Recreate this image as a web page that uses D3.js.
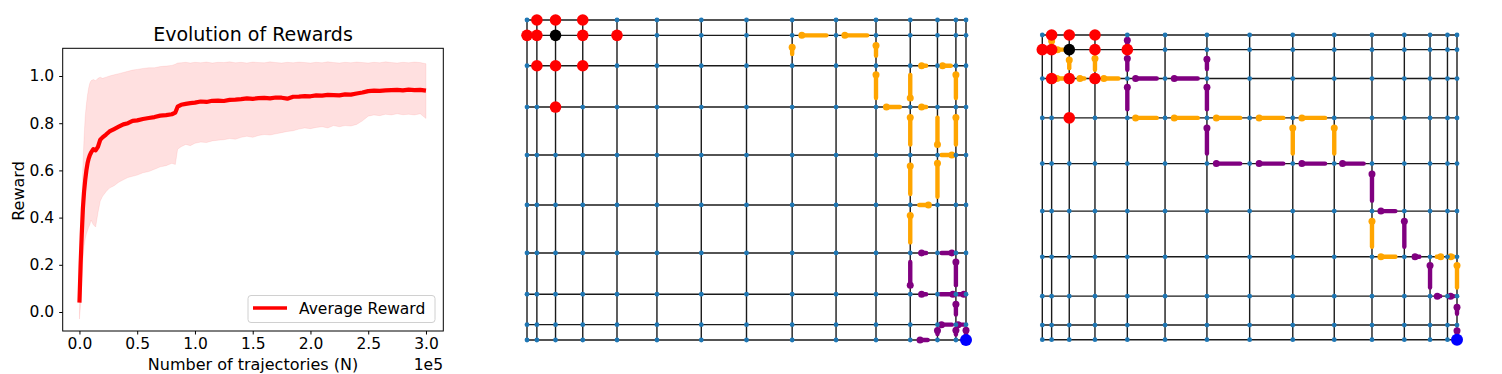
<!DOCTYPE html>
<html>
<head>
<meta charset="utf-8">
<script src="https://cdn.jsdelivr.net/npm/d3@7"></script>
<style>
body { margin: 0; background: #fff; }
text { font-family: "DejaVu Sans", sans-serif; }
</style>
</head>
<body>
<script>
// reward curve: number of trajectories, mean and band
var trajN = [0, 1000, 2000, 3000, 4000, 5000, 6000, 7000, 8000, 9000, 10000, 12000, 14000, 16000, 18000,
	20000, 23000, 26000, 30000, 34000, 38000, 42000, 46000, 50000, 55000, 60000, 65000, 70000, 75000,
	80000, 83000, 85000, 88000, 92000, 96000, 100000, 105000, 110000, 115000, 120000, 125000, 130000,
	135000, 140000, 145000, 150000, 155000, 160000, 165000, 170000, 175000, 180000, 185000, 190000,
	195000, 200000, 205000, 210000, 215000, 220000, 225000, 230000, 235000, 240000, 245000, 250000,
	255000, 260000, 265000, 270000, 275000, 280000, 285000, 290000, 295000, 300000];
var rewardMean = [0.04, 0.20, 0.33, 0.44, 0.51, 0.56, 0.60, 0.63, 0.65, 0.665, 0.675, 0.69, 0.685, 0.70, 0.73,
	0.74, 0.752, 0.765, 0.775, 0.785, 0.795, 0.80, 0.81, 0.812, 0.818, 0.822, 0.826, 0.832, 0.834,
	0.838, 0.845, 0.87, 0.878, 0.882, 0.885, 0.887, 0.892, 0.89, 0.895, 0.896, 0.894, 0.899,
	0.90, 0.902, 0.905, 0.903, 0.906, 0.907, 0.905, 0.909, 0.908, 0.904, 0.912, 0.913,
	0.915, 0.914, 0.918, 0.917, 0.92, 0.919, 0.918, 0.922, 0.921, 0.926, 0.93, 0.936,
	0.938, 0.937, 0.939, 0.94, 0.941, 0.939, 0.942, 0.94, 0.941, 0.938];
var rewardUpper = [0.10, 0.30, 0.47, 0.62, 0.74, 0.83, 0.88, 0.92, 0.95, 0.97, 0.98, 0.985, 0.98, 0.99, 0.995,
	0.99, 0.995, 1.0, 1.005, 1.01, 1.015, 1.02, 1.025, 1.028, 1.032, 1.035, 1.035, 1.04, 1.042,
	1.045, 1.05, 1.055, 1.056, 1.058, 1.055, 1.058, 1.056, 1.059, 1.055, 1.058, 1.057, 1.06,
	1.056, 1.058, 1.055, 1.059, 1.057, 1.056, 1.06, 1.057, 1.055, 1.058, 1.056, 1.059,
	1.057, 1.055, 1.058, 1.056, 1.06, 1.057, 1.055, 1.058, 1.056, 1.059, 1.057, 1.055,
	1.058, 1.056, 1.06, 1.057, 1.055, 1.058, 1.056, 1.059, 1.057, 1.052];
var rewardLower = [-0.03, 0.03, 0.12, 0.22, 0.28, 0.31, 0.33, 0.345, 0.36, 0.37, 0.39, 0.37, 0.36, 0.42, 0.47,
	0.49, 0.51, 0.525, 0.535, 0.55, 0.56, 0.57, 0.575, 0.58, 0.59, 0.595, 0.605, 0.615, 0.62,
	0.63, 0.625, 0.69, 0.70, 0.71, 0.705, 0.715, 0.72, 0.718, 0.725, 0.728, 0.73, 0.735,
	0.732, 0.74, 0.745, 0.74, 0.748, 0.752, 0.75, 0.755, 0.76, 0.765, 0.768, 0.775,
	0.78, 0.777, 0.782, 0.785, 0.78, 0.79, 0.785, 0.79, 0.788, 0.795, 0.81, 0.83,
	0.835, 0.832, 0.838, 0.835, 0.84, 0.836, 0.838, 0.835, 0.84, 0.82];
var xTicks = [0, 50000, 100000, 150000, 200000, 250000, 300000];
var yTicks = [0, 0.2, 0.4, 0.6, 0.8, 1.0];

// grid graph: node positions (normalised) and special nodes [col, row]
var gridX = [0, 0.0225, 0.065, 0.127, 0.205, 0.296, 0.397, 0.5, 0.604, 0.704, 0.795, 0.873, 0.935, 0.977, 1];
var gridY = [0, 0.048, 0.143, 0.272, 0.422, 0.578, 0.728, 0.857, 0.952, 1];
var redNodes = [[1, 0], [2, 0], [3, 0], [0, 1], [1, 1], [3, 1], [4, 1], [1, 2], [2, 2], [3, 2], [2, 3]];
var startNode = [2, 1];
var goalNode = [14, 9];

// arrows: [fromCol, fromRow, toCol, toRow, weight]
var midOrange = [[9, 1, 8, 1, 1], [10, 1, 9, 1, 1], [8, 2, 8, 1, 0.4], [10, 2, 10, 1, 0.6], [10, 3, 10, 2, 1],
	[12, 2, 11, 2, 0.3], [13, 2, 12, 2, 0.8], [11, 2, 11, 3, 1], [13, 3, 13, 2, 1], [11, 3, 10, 3, 0.7],
	[12, 3, 11, 3, 0.3], [11, 4, 11, 3, 1], [12, 3, 12, 4, 1], [13, 4, 13, 3, 1], [12, 4, 13, 4, 1],
	[11, 5, 11, 4, 1], [12, 5, 12, 4, 1.2], [11, 5, 12, 5, 0.6], [11, 6, 11, 5, 1]];
var midPurple = [[12, 6, 11, 6, 0.3], [12, 6, 13, 6, 1], [11, 6, 11, 7, 1], [13, 7, 13, 6, 1], [12, 7, 11, 7, 0.3],
	[12, 7, 13, 7, 1.2], [13, 7, 14, 7, 1], [13, 8, 13, 7, 0.6], [13, 8, 12, 8, 1], [14, 8, 13, 8, 1],
	[14, 9, 14, 8, 0.5], [12, 9, 11, 9, 0.5], [12, 9, 12, 8, 0.4], [13, 9, 13, 8, 0.5]];
var rightOrange = [[1, 1, 1, 0, 0.3], [2, 1, 1, 1, 0.6], [2, 2, 2, 1, 0.5], [3, 2, 3, 1, 0.7], [2, 2, 1, 2, 0.7],
	[3, 2, 2, 2, 0.3], [4, 2, 3, 2, 0.8], [5, 3, 4, 3, 1], [6, 3, 5, 3, 1], [7, 3, 6, 3, 1], [8, 3, 7, 3, 1],
	[9, 3, 8, 3, 1], [8, 4, 8, 3, 1], [9, 4, 9, 3, 1], [10, 6, 10, 5, 1], [11, 6, 10, 6, 0.8],
	[12, 6, 13, 6, 0.4], [14, 6, 13, 6, 0.5], [14, 7, 14, 6, 1]];
var rightPurple = [[4, 1, 4, 0, 0.5], [4, 2, 4, 1, 0.7], [4, 3, 4, 2, 1], [5, 2, 4, 2, 1], [6, 2, 5, 2, 1],
	[6, 2, 6, 1, 0.6], [6, 3, 6, 2, 1], [6, 4, 6, 3, 1], [7, 4, 6, 4, 1], [8, 4, 7, 4, 1], [9, 4, 8, 4, 1],
	[10, 4, 9, 4, 1], [10, 5, 10, 4, 1], [11, 5, 10, 5, 0.8], [11, 6, 11, 5, 1], [12, 6, 11, 6, 0.3],
	[12, 7, 12, 6, 1], [13, 7, 12, 7, 0.3], [14, 7, 13, 7, 0.6], [14, 8, 14, 7, 0.4], [14, 9, 14, 8, 0.4]];

var width = 1502;
var height = 374;

var svg = d3.select("body").append("svg")
	.attr("width", width)
	.attr("height", height);

svg.append("rect").attr("width", width).attr("height", height).attr("fill", "#fff");

// ---------- reward plot ----------
var x = d3.scaleLinear().domain([-14500, 315000]).range([62.7, 443.3]);
var y = d3.scaleLinear().domain([-0.0805, 1.1174]).range([331, 48.3]);

var band = d3.area()
	.x(function(d, i) { return x(trajN[i]); })
	.y0(function(d, i) { return y(rewardLower[i]); })
	.y1(function(d, i) { return y(rewardUpper[i]); });

svg.append("path").datum(trajN)
	.attr("d", band)
	.attr("fill", "#ff0000")
	.attr("fill-opacity", 0.12)
	.attr("stroke", "#ff0000")
	.attr("stroke-opacity", 0.08);

var meanLine = d3.line()
	.x(function(d, i) { return x(trajN[i]); })
	.y(function(d, i) { return y(rewardMean[i]); });

svg.append("path").datum(trajN)
	.attr("d", meanLine)
	.attr("fill", "none")
	.attr("stroke", "#ff0000")
	.attr("stroke-width", 4.2)
	.attr("stroke-linejoin", "round");

var xAxis = svg.append("g")
	.attr("transform", "translate(0,331)")
	.call(d3.axisBottom(x).tickValues(xTicks).tickSize(3.5).tickPadding(3.5).tickSizeOuter(0)
		.tickFormat(function(d) { return (d / 1e5).toFixed(1); }));
var yAxis = svg.append("g")
	.attr("transform", "translate(62.7,0)")
	.call(d3.axisLeft(y).tickValues(yTicks).tickSize(3.5).tickPadding(5).tickSizeOuter(0)
		.tickFormat(d3.format(".1f")));
[xAxis, yAxis].forEach(function(a) {
	a.select(".domain").remove();
	a.selectAll("text").attr("font-family", "DejaVu Sans").attr("font-size", "15.5px").attr("fill", "#000");
	a.selectAll("line").attr("stroke", "#000");
});

svg.append("rect")
	.attr("x", 62.7).attr("y", 48.3)
	.attr("width", 443.3 - 62.7).attr("height", 331 - 48.3)
	.attr("fill", "none").attr("stroke", "#000").attr("stroke-width", 1);

svg.append("text").attr("x", 253).attr("y", 41).attr("text-anchor", "middle")
	.attr("font-size", "19px").text("Evolution of Rewards");
svg.append("text").attr("x", 253).attr("y", 370).attr("text-anchor", "middle")
	.attr("font-size", "16px").text("Number of trajectories (N)");
svg.append("text").attr("x", 443).attr("y", 369.5).attr("text-anchor", "end")
	.attr("font-size", "15.5px").text("1e5");
svg.append("text").attr("transform", "translate(24,191) rotate(-90)").attr("text-anchor", "middle")
	.attr("font-size", "16px").text("Reward");

var legend = svg.append("g");
legend.append("rect").attr("x", 248).attr("y", 295.5).attr("width", 187).attr("height", 27).attr("rx", 3)
	.attr("fill", "#fff").attr("fill-opacity", 0.8).attr("stroke", "#d0d0d0");
legend.append("line").attr("x1", 253).attr("x2", 287).attr("y1", 308).attr("y2", 308)
	.attr("stroke", "#ff0000").attr("stroke-width", 3.6);
legend.append("text").attr("x", 299).attr("y", 313.5).attr("font-size", "15.5px").text("Average Reward");

// ---------- grid panels ----------
function drawGrid(x0, x1, y0, y1, orange, purple) {
	var sx = d3.scaleLinear().domain([0, 1]).range([x0, x1]);
	var sy = d3.scaleLinear().domain([0, 1]).range([y0, y1]);
	var g = svg.append("g");

	g.selectAll(".v").data(gridX).enter().append("line")
		.attr("x1", function(d) { return sx(d); }).attr("x2", function(d) { return sx(d); })
		.attr("y1", sy(0)).attr("y2", sy(1))
		.attr("stroke", "#1a1a1a").attr("stroke-width", 1.4);
	g.selectAll(".h").data(gridY).enter().append("line")
		.attr("y1", function(d) { return sy(d); }).attr("y2", function(d) { return sy(d); })
		.attr("x1", sx(0)).attr("x2", sx(1))
		.attr("stroke", "#1a1a1a").attr("stroke-width", 1.4);

	function drawArrows(list, color) {
		list.forEach(function(a) {
			var ax = sx(gridX[a[0]]), ay = sy(gridY[a[1]]);
			var bx = sx(gridX[a[2]]), by = sy(gridY[a[3]]);
			var hl = Math.min(0.42, a[4] * 0.28);
			var t0 = 0.5 - hl, t1 = 0.5 + hl;
			var tx = ax + (bx - ax) * t0, ty = ay + (by - ay) * t0;
			var hx = ax + (bx - ax) * t1, hy = ay + (by - ay) * t1;
			g.append("line")
				.attr("x1", tx).attr("y1", ty).attr("x2", hx).attr("y2", hy)
				.attr("stroke", color).attr("stroke-width", 4.4).attr("stroke-linecap", "round");
			g.append("circle").attr("cx", hx).attr("cy", hy).attr("r", 3.5).attr("fill", color);
		});
	}
	drawArrows(orange, "#ffa500");
	drawArrows(purple, "#800080");

	var nodes = [];
	gridY.forEach(function(gy, r) {
		gridX.forEach(function(gx, c) { nodes.push([c, r]); });
	});
	g.selectAll(".node").data(nodes).enter().append("circle")
		.attr("cx", function(d) { return sx(gridX[d[0]]); })
		.attr("cy", function(d) { return sy(gridY[d[1]]); })
		.attr("r", 2.4).attr("fill", "#1f77b4");

	g.selectAll(".red").data(redNodes).enter().append("circle")
		.attr("cx", function(d) { return sx(gridX[d[0]]); })
		.attr("cy", function(d) { return sy(gridY[d[1]]); })
		.attr("r", 5.8).attr("fill", "#ff0000");
	g.append("circle").attr("cx", sx(gridX[startNode[0]])).attr("cy", sy(gridY[startNode[1]]))
		.attr("r", 5.8).attr("fill", "#000");
	g.append("circle").attr("cx", sx(gridX[goalNode[0]])).attr("cy", sy(gridY[goalNode[1]]))
		.attr("r", 6).attr("fill", "#0000ff");
}

drawGrid(527, 966, 20, 340, midOrange, midPurple);
drawGrid(1042.3, 1457, 35, 339.7, rightOrange, rightPurple);
</script>
</body>
</html>
